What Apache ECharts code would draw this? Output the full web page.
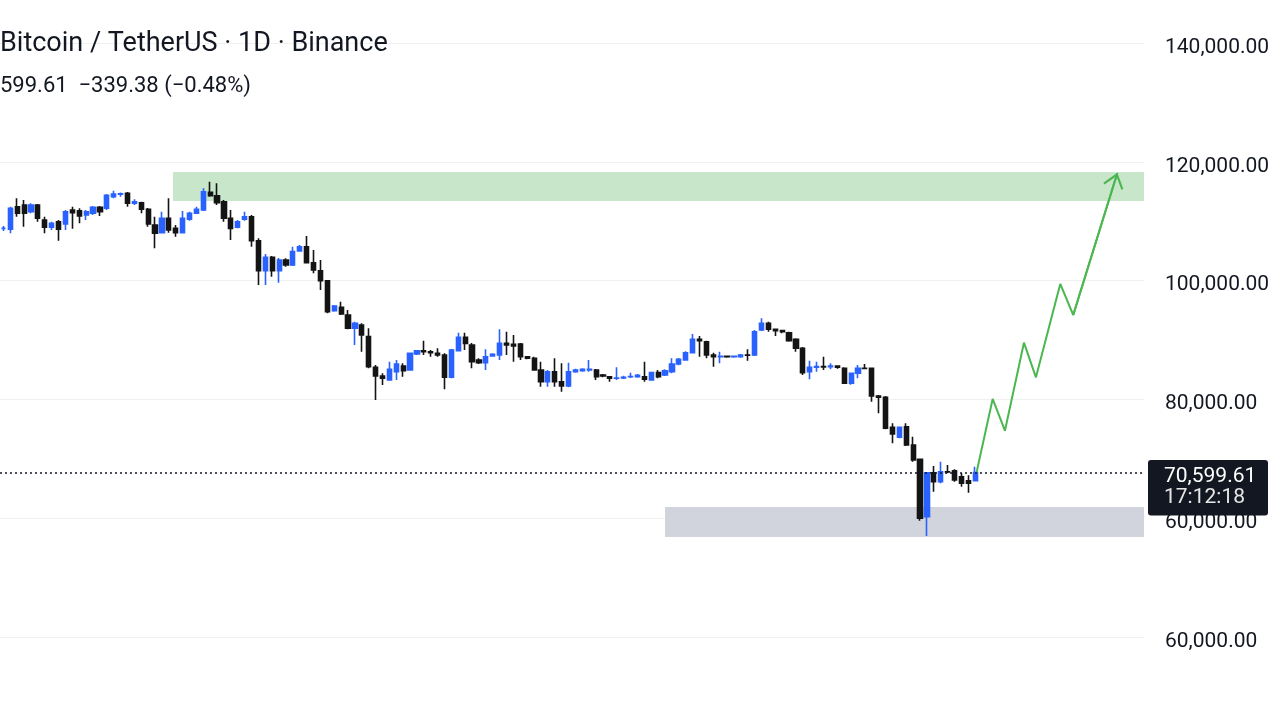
<!DOCTYPE html>
<html><head><meta charset="utf-8">
<script src="https://cdn.jsdelivr.net/npm/echarts@6/dist/echarts.min.js"></script>
<style>html,body{margin:0;padding:0;background:#fff}#c{width:1280px;height:720px}</style>
</head><body><div id="c"></div>
<script>
const titleText = 'Bitcoin / TetherUS · 1D · Binance';
const subText = '599.61  −339.38 (−0.48%)';
const lastPriceText = '70,599.61';
const countdownText = '17:12:18';

const yTickValues = [40000, 60000, 80000, 100000, 120000, 140000];
const yTickLabels = ['60,000.00', '60,000.00', '80,000.00', '100,000.00', '120,000.00', '140,000.00'];

// daily candles: [open, close, low, high]
const candles = [
  [108800,108800,108350,109190],[108640,112170,107960,112440],[112440,111330,110760,113860],[112730,111330,109070,113570],
  [111600,112730,111330,113010],[112730,110490,109920,112900],[110200,108970,107960,110760],[108970,109650,108520,109920],
  [109920,108640,106720,110200],[109530,111600,108520,111890],[111890,111430,108740,112440],[111770,110880,109650,112170],
  [111040,111600,110200,111890],[111330,112340,111040,112560],[112340,111600,110880,112560],[112170,114360,111890,114580],
  [114130,114560,113860,115140],[114560,114600,114130,114830],[114700,113010,112440,114920],[113010,113280,112730,113690],
  [113110,112000,111330,113280],[112000,109530,109070,112220],[109360,107960,105440,110760],[108060,110490,107960,111600],
  [110490,108520,108060,113860],[108800,108060,107390,109360],[108060,110490,108000,111720],[110320,111330,110080,111600],
  [111330,112000,111210,112440],[111890,114970,111720,115540],[114870,114290,114130,116650],[114290,113110,112730,116380],
  [113280,110490,109920,113570],[110490,108800,106840,111890],[108970,109920,108800,110200],[110320,110760,110080,111600],
  [110760,106720,105710,111040],[106720,101670,99260,107120],[101670,103920,99260,104480],[103920,101670,100660,104140],
  [101670,103470,99650,103800],[103470,102630,102340,103750],[102630,104870,102460,105710],[104980,105710,104870,105990],
  [105710,103010,102960,107510],[103010,101780,101230,105150],[101670,99980,98420,103470],[99980,94760,94500,100100],
  [94930,95720,94760,95890],[95510,94380,94210,96450],[94210,91970,91800,95050],[91970,92810,89160,93080],
  [92530,90840,88030,92810],[90560,85510,85240,91970],[85400,83940,79900,85790],[83940,83550,82420,84390],
  [83270,85070,83150,86350],[84660,85960,83270,86630],[85620,84830,83820,86080],[84950,87760,84830,87860],
  [87640,88200,87480,88320],[88200,88030,87480,89880],[88030,87860,87190,88320],[87760,87480,87190,88600],
  [87480,83720,81700,87760],[83720,88320,83550,88490],[88200,90460,88150,91230],[90460,89440,88320,91230],
  [89160,86350,85240,89500],[86630,86180,85960,86920],[86180,87190,84950,88430],[87310,87590,87190,87760],
  [87480,89440,86630,91800],[89440,89160,87480,91400],[89280,88990,86350,90840],[89330,87190,86630,89500],
  [87190,86920,86750,87310],[86920,84950,84830,87190],
  [84950,82980,82140,86350],[82980,84660,82140,84950],[84660,82980,82140,86920],[82980,82260,81300,86080],
  [82260,84660,82040,86180],[84660,84950,84500,85170],[84830,85070,84660,85240],[84950,85070,84660,86630],
  [84950,83820,83270,85120],[84110,83940,83720,84280],[83820,83550,82980,83940],[83550,83600,83270,85400],
  [83600,83700,83450,84000],[83820,83860,83600,84500],[83820,84060,83650,84280],[83820,83380,82980,86350],
  [83270,84500,83150,84660],[84500,83820,83550,84950],[84110,84830,83940,85070],[84660,85960,84390,86920],
  [85960,86750,85740,86970],[86630,87860,86520,88100],[87860,90120,87810,91010],[90120,89880,87190,90670],
  [89710,87480,86920,89880],[87480,87190,85510,87860],[87190,87250,86080,88030],[87250,87190,87020,87360],
  [87190,87250,87020,87400],[87190,87480,87020,87640],[87480,87430,86520,88430],[87480,91400,87310,91680],
  [91680,92810,91520,93650],
  [92810,91800,91400,93080],[91800,91570,90670,91800],[91570,91400,91130,91570],[91230,89880,89710,91400],
  [90120,88600,88030,90290],[88600,84500,84110,88820],[84660,85400,83380,86520],[85400,85510,84660,86350],
  [85510,85450,84950,87190],[85510,85620,85070,86080],[85620,85400,85170,85620],[85240,82710,82590,85400],
  [82710,84390,82480,84500],[84390,85240,83550,85790],[85240,85200,85070,85960],[85240,80570,79610,85240],
  [80570,80350,77660,80740],[80350,75140,74970,80570],[75300,74180,72610,75980],[73620,75300,73450,75400],
  [75400,72320,72160,75980],[72320,69800,69510,73720],[69920,59980,59580,69920],[60250,67660,57000,67780],
  [67660,66150,64460,68790],[66150,67830,65880,69510],[67830,67780,67560,68960],[68000,66430,66150,68230],
  [66990,65880,65300,67560],[66310,65880,64290,67220],[66310,67700,66260,68670]
];
const futureSlots = 24;

// zones: [start slot, low price, high price]
const resistanceZone = [24.6, 113400, 118280];
const supportZone = [96.0, 56840, 61890];

// projected path (slot, price)
const pathX = [141.2, 143.54, 145.32, 148.08, 149.82, 153.35, 155.23, 161.62];
const pathY = [67700, 80070, 74730, 89550, 83720, 99430, 94210, 118060];

const totalSlots = candles.length + futureSlots;
const categories = [];
for (let i = 0; i < totalSlots; i++) categories.push(String(i + 1));
const lastClose = candles[candles.length - 1][1];
const n = pathX.length;

const FONT = 'Roboto';
const BLUE = '#2962ff';
const DARK = '#141414';
const GREEN = '#4cb750';

const chart = echarts.init(document.getElementById('c'), null, {renderer: 'canvas'});
chart.setOption({
  animation: false,
  backgroundColor: '#ffffff',
  title: {
    text: titleText, subtext: subText, left: 0, top: 31, padding: 0, itemGap: 17,
    textStyle: {fontFamily: FONT, fontSize: 27, fontWeight: 'normal', color: '#131722'},
    subtextStyle: {fontFamily: FONT, fontSize: 22, color: '#131722'}
  },
  grid: {left: 0, right: 136, top: 43, bottom: 83},
  xAxis: [
    {type: 'category', data: categories, show: false, boundaryGap: true},
    {type: 'value', min: -0.5, max: totalSlots - 0.5, show: false}
  ],
  yAxis: {
    type: 'value', position: 'right', min: 40000, max: 140000, interval: 20000,
    axisLine: {show: false}, axisTick: {show: false},
    splitLine: {lineStyle: {color: '#f0f0f0', width: 1}},
    axisLabel: {
      margin: 21, fontFamily: FONT, fontSize: 21, color: '#131722',
      verticalAlign: 'top', lineHeight: 9,
      formatter: v => { const k = yTickValues.indexOf(v); return k >= 0 ? yTickLabels[k] : ''; }
    }
  },
  series: [
    {
      type: 'line', xAxisIndex: 1, data: [], silent: true, z: 1,
      markArea: {
        silent: true,
        data: [
          [{xAxis: resistanceZone[0], yAxis: resistanceZone[2], itemStyle: {color: '#c8e6c9'}}, {xAxis: totalSlots - 0.5, yAxis: resistanceZone[1]}],
          [{xAxis: supportZone[0], yAxis: supportZone[2], itemStyle: {color: '#d1d4dc'}}, {xAxis: totalSlots - 0.5, yAxis: supportZone[1]}]
        ]
      }
    },
    {
      type: 'candlestick', xAxisIndex: 0, data: candles, barWidth: '68%', z: 3,
      itemStyle: {color: BLUE, color0: DARK, borderColor: BLUE, borderColor0: DARK, borderWidth: 1.6},
      markLine: {
        silent: true, symbol: 'none',
        lineStyle: {type: [2, 3], color: '#131722', width: 1.6},
        data: [{yAxis: lastClose}],
        label: {
          show: true, position: 'end', distance: 4,
          formatter: '{g| }\n{p|' + lastPriceText + '}\n{t|' + countdownText + '}',
          rich: {
            g: {fontSize: 21, height: 30, lineHeight: 30},
            p: {fontFamily: FONT, fontSize: 21, color: '#ffffff', backgroundColor: '#131722', width: 104, height: 26, lineHeight: 26, padding: [4, 0, 0, 16], borderRadius: [3, 3, 0, 0]},
            t: {fontFamily: FONT, fontSize: 21, color: '#e6e6e6', backgroundColor: '#131722', width: 104, height: 25, lineHeight: 25, padding: [0, 0, 5, 16], borderRadius: [0, 0, 3, 3]}
          }
        }
      }
    },
    {
      type: 'line', xAxisIndex: 1, z: 4, symbol: 'none', silent: true,
      data: pathX.map((x, i) => [x, pathY[i]]),
      lineStyle: {color: GREEN, width: 2},
      markLine: {
        silent: true,
        symbol: ['none', 'path://M10,0 L20,13 L18.4,14.2 L10,3.3 L1.6,14.2 L0,13 Z'],
        symbolSize: [21, 15],
        symbolOffset: [[0, 0], [0, 7]],
        lineStyle: {color: GREEN, width: 2, type: 'solid'},
        label: {show: false},
        data: [[{coord: [pathX[n - 2], pathY[n - 2]]}, {coord: [pathX[n - 1], pathY[n - 1]]}]]
      }
    }
  ]
});
</script></body></html>
